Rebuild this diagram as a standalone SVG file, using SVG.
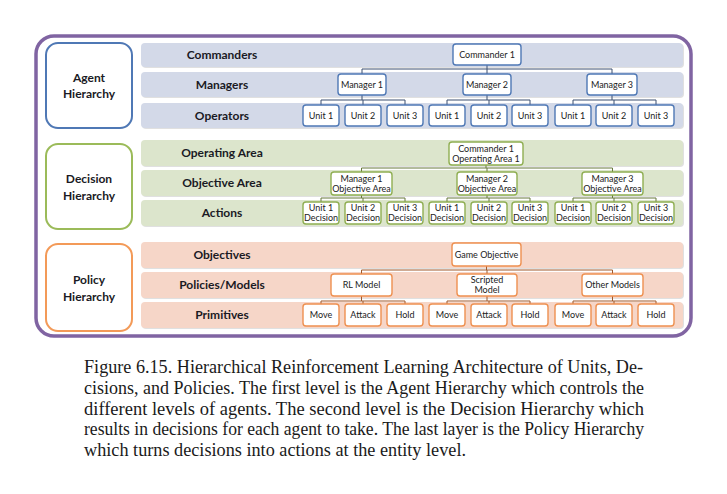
<svg xmlns="http://www.w3.org/2000/svg" width="727" height="494" viewBox="0 0 727 494">
<style>
.lbl{font-family:Lato,"Open Sans",sans-serif;font-weight:bold;font-size:12px;fill:#1a1a24;text-anchor:middle}
.nt{font-family:Lato,"Open Sans",sans-serif;font-size:9px;fill:#222;text-anchor:middle}
.bandA{fill:#d3d9e8}
.bandD{fill:#dce5cc}
.bandP{fill:#f6d6c8}
.sh{fill:#000;opacity:0.12}
.nA{fill:#fff;stroke:#4f78b5;stroke-width:1.4}
.nD{fill:#fff;stroke:#8fae52;stroke-width:1.4}
.nP{fill:#fff;stroke:#ee9050;stroke-width:1.4}
.cA{fill:none;stroke:#3a4f70;stroke-width:1}
.cD{fill:none;stroke:#66783a;stroke-width:1}
.cP{fill:none;stroke:#a0582a;stroke-width:1}
.cap{font-family:"Liberation Serif","Times New Roman",serif;font-size:18px;fill:#1a1a1a}
</style>
<rect width="727" height="494" fill="#fff"/>
<rect x="36" y="36" width="655" height="300" rx="18" fill="#fff" stroke="#8064a2" stroke-width="3.5"/>

<g id="agent-hierarchy">
<rect x="46" y="43" width="86" height="85" rx="12" fill="#fff" stroke="#4f78b5" stroke-width="2"/>
<text class="lbl" x="89" y="82">Agent</text>
<text class="lbl" x="89" y="98">Hierarchy</text>
</g>
<g id="band-commanders"><rect class="sh" x="142" y="44" width="542" height="24" rx="4"/><rect class="bandA" x="141" y="43" width="542" height="24" rx="4"/><text class="lbl" x="222" y="59">Commanders</text></g>
<g id="band-managers"><rect class="sh" x="142" y="73" width="542" height="25" rx="4"/><rect class="bandA" x="141" y="72" width="542" height="25" rx="4"/><text class="lbl" x="222" y="89">Managers</text></g>
<g id="band-operators"><rect class="sh" x="142" y="104" width="542" height="25" rx="4"/><rect class="bandA" x="141" y="103" width="542" height="25" rx="4"/><text class="lbl" x="222" y="120">Operators</text></g>

<g id="decision-hierarchy">
<rect x="46" y="144" width="86" height="85" rx="12" fill="#fff" stroke="#9bbb59" stroke-width="2"/>
<text class="lbl" x="89" y="183">Decision</text>
<text class="lbl" x="89" y="200">Hierarchy</text>
</g>
<g id="band-operating"><rect class="sh" x="142" y="141" width="542" height="26" rx="4"/><rect class="bandD" x="141" y="140" width="542" height="26" rx="4"/><text class="lbl" x="222" y="157">Operating Area</text></g>
<g id="band-objective"><rect class="sh" x="142" y="171" width="542" height="26" rx="4"/><rect class="bandD" x="141" y="170" width="542" height="26" rx="4"/><text class="lbl" x="222" y="187">Objective Area</text></g>
<g id="band-actions"><rect class="sh" x="142" y="201" width="542" height="26" rx="4"/><rect class="bandD" x="141" y="200" width="542" height="26" rx="4"/><text class="lbl" x="222" y="217">Actions</text></g>

<g id="policy-hierarchy">
<rect x="46" y="244" width="86" height="87" rx="12" fill="#fff" stroke="#f39a58" stroke-width="2"/>
<text class="lbl" x="89" y="284">Policy</text>
<text class="lbl" x="89" y="301">Hierarchy</text>
</g>
<g id="band-objectives"><rect class="sh" x="142" y="243" width="542" height="26" rx="4"/><rect class="bandP" x="141" y="242" width="542" height="26" rx="4"/><text class="lbl" x="222" y="259">Objectives</text></g>
<g id="band-policies"><rect class="sh" x="142" y="273" width="542" height="26" rx="4"/><rect class="bandP" x="141" y="272" width="542" height="26" rx="4"/><text class="lbl" x="222" y="289">Policies/Models</text></g>
<g id="band-primitives"><rect class="sh" x="142" y="303" width="542" height="26" rx="4"/><rect class="bandP" x="141" y="302" width="542" height="26" rx="4"/><text class="lbl" x="222" y="319">Primitives</text></g>

<g id="connectors">
<path class="cA" d="M487 65V69M362 74V69H612V74M487 69V74"/>
<path class="cA" d="M362 95V100M321 105V100H405V105M363 100V105"/>
<path class="cA" d="M487 95V100M447 105V100H530V105M489 100V105"/>
<path class="cA" d="M612 95V100M573 105V100H656V105M614 100V105"/>
<path class="cD" d="M486 165V168M361.5 172V168H612.5V172M487 168V172"/>
<path class="cD" d="M361.5 195V198M321 202V198H405V202M363 198V202"/>
<path class="cD" d="M487 195V198M447 202V198H530V202M489 198V202"/>
<path class="cD" d="M612.5 195V198M573 202V198H656V202M614 198V202"/>
<path class="cP" d="M486.5 266V270M361.5 274V270H612.5V274M487 270V274"/>
<path class="cP" d="M361.5 296V301M321 304V301H405V304M363 301V304"/>
<path class="cP" d="M487 296V301M447 304V301H530V304M489 301V304"/>
<path class="cP" d="M612.5 296V301M573 304V301H656V304M614 301V304"/>
</g>

<g id="commander-1"><rect class="nA" x="453" y="44" width="68" height="21" rx="3"/><text class="nt" x="487" y="58">Commander 1</text></g>
<g id="manager-1"><rect class="nA" x="338" y="74" width="48" height="21" rx="3"/><text class="nt" x="362" y="88">Manager 1</text></g>
<g id="manager-2"><rect class="nA" x="463" y="74" width="48" height="21" rx="3"/><text class="nt" x="487" y="88">Manager 2</text></g>
<g id="manager-3"><rect class="nA" x="587" y="74" width="50" height="21" rx="3"/><text class="nt" x="612" y="88">Manager 3</text></g>
<g id="a-unit-1-1"><rect class="nA" x="303" y="105" width="36" height="21" rx="3"/><text class="nt" x="321" y="119">Unit 1</text></g>
<g id="a-unit-1-2"><rect class="nA" x="345" y="105" width="36" height="21" rx="3"/><text class="nt" x="363" y="119">Unit 2</text></g>
<g id="a-unit-1-3"><rect class="nA" x="387" y="105" width="36" height="21" rx="3"/><text class="nt" x="405" y="119">Unit 3</text></g>
<g id="a-unit-2-1"><rect class="nA" x="429" y="105" width="36" height="21" rx="3"/><text class="nt" x="447" y="119">Unit 1</text></g>
<g id="a-unit-2-2"><rect class="nA" x="471" y="105" width="36" height="21" rx="3"/><text class="nt" x="489" y="119">Unit 2</text></g>
<g id="a-unit-2-3"><rect class="nA" x="512" y="105" width="36" height="21" rx="3"/><text class="nt" x="530" y="119">Unit 3</text></g>
<g id="a-unit-3-1"><rect class="nA" x="555" y="105" width="36" height="21" rx="3"/><text class="nt" x="573" y="119">Unit 1</text></g>
<g id="a-unit-3-2"><rect class="nA" x="596" y="105" width="36" height="21" rx="3"/><text class="nt" x="614" y="119">Unit 2</text></g>
<g id="a-unit-3-3"><rect class="nA" x="638" y="105" width="36" height="21" rx="3"/><text class="nt" x="656" y="119">Unit 3</text></g>

<g id="d-commander-1"><rect class="nD" x="449" y="142" width="74" height="23" rx="3"/><text class="nt" x="486" y="152">Commander 1</text><text class="nt" x="486" y="162">Operating Area 1</text></g>
<g id="d-manager-1"><rect class="nD" x="331" y="172" width="61" height="23" rx="3"/><text class="nt" x="361.5" y="182">Manager 1</text><text class="nt" x="361.5" y="192">Objective Area</text></g>
<g id="d-manager-2"><rect class="nD" x="457" y="172" width="60" height="23" rx="3"/><text class="nt" x="487" y="182">Manager 2</text><text class="nt" x="487" y="192">Objective Area</text></g>
<g id="d-manager-3"><rect class="nD" x="582" y="172" width="61" height="23" rx="3"/><text class="nt" x="612.5" y="182">Manager 3</text><text class="nt" x="612.5" y="192">Objective Area</text></g>
<g id="d-unit-1-1"><rect class="nD" x="303" y="202" width="36" height="22" rx="3"/><text class="nt" x="321" y="211">Unit 1</text><text class="nt" x="321" y="221">Decision</text></g>
<g id="d-unit-1-2"><rect class="nD" x="345" y="202" width="36" height="22" rx="3"/><text class="nt" x="363" y="211">Unit 2</text><text class="nt" x="363" y="221">Decision</text></g>
<g id="d-unit-1-3"><rect class="nD" x="387" y="202" width="36" height="22" rx="3"/><text class="nt" x="405" y="211">Unit 3</text><text class="nt" x="405" y="221">Decision</text></g>
<g id="d-unit-2-1"><rect class="nD" x="429" y="202" width="36" height="22" rx="3"/><text class="nt" x="447" y="211">Unit 1</text><text class="nt" x="447" y="221">Decision</text></g>
<g id="d-unit-2-2"><rect class="nD" x="471" y="202" width="36" height="22" rx="3"/><text class="nt" x="489" y="211">Unit 2</text><text class="nt" x="489" y="221">Decision</text></g>
<g id="d-unit-2-3"><rect class="nD" x="512" y="202" width="36" height="22" rx="3"/><text class="nt" x="530" y="211">Unit 3</text><text class="nt" x="530" y="221">Decision</text></g>
<g id="d-unit-3-1"><rect class="nD" x="555" y="202" width="36" height="22" rx="3"/><text class="nt" x="573" y="211">Unit 1</text><text class="nt" x="573" y="221">Decision</text></g>
<g id="d-unit-3-2"><rect class="nD" x="596" y="202" width="36" height="22" rx="3"/><text class="nt" x="614" y="211">Unit 2</text><text class="nt" x="614" y="221">Decision</text></g>
<g id="d-unit-3-3"><rect class="nD" x="638" y="202" width="36" height="22" rx="3"/><text class="nt" x="656" y="211">Unit 3</text><text class="nt" x="656" y="221">Decision</text></g>

<g id="game-objective"><rect class="nP" x="452" y="243" width="69" height="23" rx="3"/><text class="nt" x="486.5" y="258">Game Objective</text></g>
<g id="rl-model"><rect class="nP" x="331" y="274" width="61" height="22" rx="3"/><text class="nt" x="361.5" y="288">RL Model</text></g>
<g id="scripted-model"><rect class="nP" x="457" y="274" width="60" height="22" rx="3"/><text class="nt" x="487" y="283">Scripted</text><text class="nt" x="487" y="293">Model</text></g>
<g id="other-models"><rect class="nP" x="582" y="274" width="61" height="22" rx="3"/><text class="nt" x="612.5" y="288">Other Models</text></g>
<g id="p-move-1"><rect class="nP" x="303" y="304" width="36" height="22" rx="3"/><text class="nt" x="321" y="318">Move</text></g>
<g id="p-attack-1"><rect class="nP" x="345" y="304" width="36" height="22" rx="3"/><text class="nt" x="363" y="318">Attack</text></g>
<g id="p-hold-1"><rect class="nP" x="387" y="304" width="36" height="22" rx="3"/><text class="nt" x="405" y="318">Hold</text></g>
<g id="p-move-2"><rect class="nP" x="429" y="304" width="36" height="22" rx="3"/><text class="nt" x="447" y="318">Move</text></g>
<g id="p-attack-2"><rect class="nP" x="471" y="304" width="36" height="22" rx="3"/><text class="nt" x="489" y="318">Attack</text></g>
<g id="p-hold-2"><rect class="nP" x="512" y="304" width="36" height="22" rx="3"/><text class="nt" x="530" y="318">Hold</text></g>
<g id="p-move-3"><rect class="nP" x="555" y="304" width="36" height="22" rx="3"/><text class="nt" x="573" y="318">Move</text></g>
<g id="p-attack-3"><rect class="nP" x="596" y="304" width="36" height="22" rx="3"/><text class="nt" x="614" y="318">Attack</text></g>
<g id="p-hold-3"><rect class="nP" x="638" y="304" width="36" height="22" rx="3"/><text class="nt" x="656" y="318">Hold</text></g>

<g id="caption">
<text class="cap" x="84" y="373" textLength="559" lengthAdjust="spacingAndGlyphs">Figure 6.15. Hierarchical Reinforcement Learning Architecture of Units, De-</text>
<text class="cap" x="84" y="393.5" textLength="560" lengthAdjust="spacingAndGlyphs">cisions, and Policies. The first level is the Agent Hierarchy which controls the</text>
<text class="cap" x="84" y="414.5" textLength="560" lengthAdjust="spacingAndGlyphs">different levels of agents. The second level is the Decision Hierarchy which</text>
<text class="cap" x="84" y="435" textLength="560" lengthAdjust="spacingAndGlyphs">results in decisions for each agent to take. The last layer is the Policy Hierarchy</text>
<text class="cap" x="84" y="456" textLength="382" lengthAdjust="spacingAndGlyphs">which turns decisions into actions at the entity level.</text>
</g>
</svg>
